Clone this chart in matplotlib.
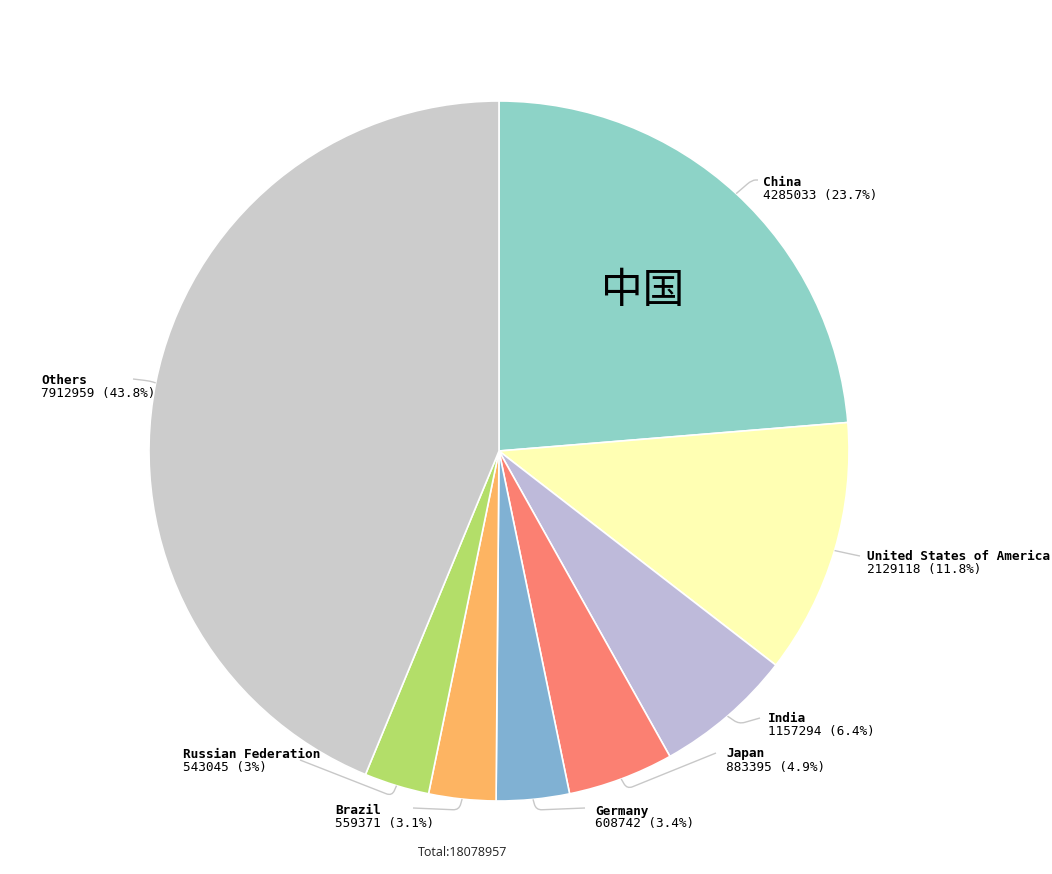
import numpy as np
import matplotlib
matplotlib.use("Agg")
import matplotlib.pyplot as plt
from matplotlib.path import Path
from matplotlib.patches import PathPatch

# ── Data ────────────────────────────────────────────────────────────────────
countries = ["China", "United States of America", "India", "Japan",
             "Germany", "Brazil", "Russian Federation", "Others"]
values = [4285033, 2129118, 1157294, 883395, 608742, 559371, 543045, 7912959]
pct_labels = ["23.7%", "11.8%", "6.4%", "4.9%", "3.4%", "3.1%", "3%", "43.8%"]
colors = ["#8dd3c7", "#ffffb3", "#bebada", "#fb8072",
          "#80b1d3", "#fdb462", "#b3de69", "#cccccc"]
total = sum(values)

# ── Layout (pixel space, origin top-left) ──────────────────────────────────
W, H = 1052, 874
CX, CY, R = 499, 451, 350

# label anchor (x, y of name line) and elbow of leader line
label_pos = [(763, 182), (867, 557), (768, 719), (726, 754),
             (595, 811), (335, 811), (183, 754), (41, 380)]
elbows = [(752, 180), (855, 555), (739, 724), (627, 789),
          (536, 810), (459, 810), (392, 796), (150, 381)]
line_end = [(758, 180), (860, 556), (760, 718), (716, 753),
            (585, 808), (413, 808), (300, 760), (133, 379)]


def to_data(px, py):
    return (px - CX) / R, (CY - py) / R


fig = plt.figure(figsize=(W / 100, H / 100), dpi=100)
ax = fig.add_axes([0, 0, 1, 1])

wedges, _ = ax.pie(values, colors=colors, startangle=90, counterclock=False,
                   radius=1, center=(0, 0),
                   wedgeprops=dict(edgecolor="white", linewidth=1.2))

# pie() resets the limits, so set them afterwards
ax.set_xlim(-CX / R, (W - CX) / R)
ax.set_ylim(-(H - CY) / R, CY / R)
ax.set_aspect("equal")
ax.axis("off")

mono = "DejaVu Sans Mono"
for i, w in enumerate(wedges):
    mid = np.deg2rad((w.theta1 + w.theta2) / 2)
    p0 = np.array([np.cos(mid), np.sin(mid)]) * 1.0
    pe = np.array(to_data(*elbows[i]))
    p1 = np.array(to_data(*line_end[i]))
    # rounded corner at elbow
    r = 6 / R
    d0 = pe - p0
    d1 = p1 - pe
    a = pe - d0 / max(np.linalg.norm(d0), 1e-9) * min(r, np.linalg.norm(d0) * 0.6)
    b = pe + d1 / max(np.linalg.norm(d1), 1e-9) * min(r, np.linalg.norm(d1) * 0.6)
    path = Path([p0, a, pe, b, p1],
                [Path.MOVETO, Path.LINETO, Path.CURVE3, Path.CURVE3, Path.LINETO])
    ax.add_patch(PathPatch(path, fill=False, edgecolor="#c8c8c8", lw=1.0))

    lx, ly = to_data(*label_pos[i])
    ax.text(lx, ly, countries[i], family=mono, fontweight="bold", fontsize=9.2,
            ha="left", va="center", color="black")
    ax.text(lx, ly - 13 / R, f"{values[i]} ({pct_labels[i]})", family=mono,
            fontsize=9.2, ha="left", va="center", color="black")

# handwritten-style marker inside the China slice
cx_, cy_ = to_data(643, 292)
ax.text(cx_, cy_, "中国", family=["Noto Sans CJK SC", "DejaVu Sans"],
        fontweight="light", fontsize=30, ha="center", va="center", color="black")

tx, ty = to_data(463, 852)
ax.text(tx, ty, f"Total:{total}", family="Open Sans", fontsize=9,
        ha="center", va="center", color="#222222")

fig.savefig("out.png", dpi=100, facecolor="white")
